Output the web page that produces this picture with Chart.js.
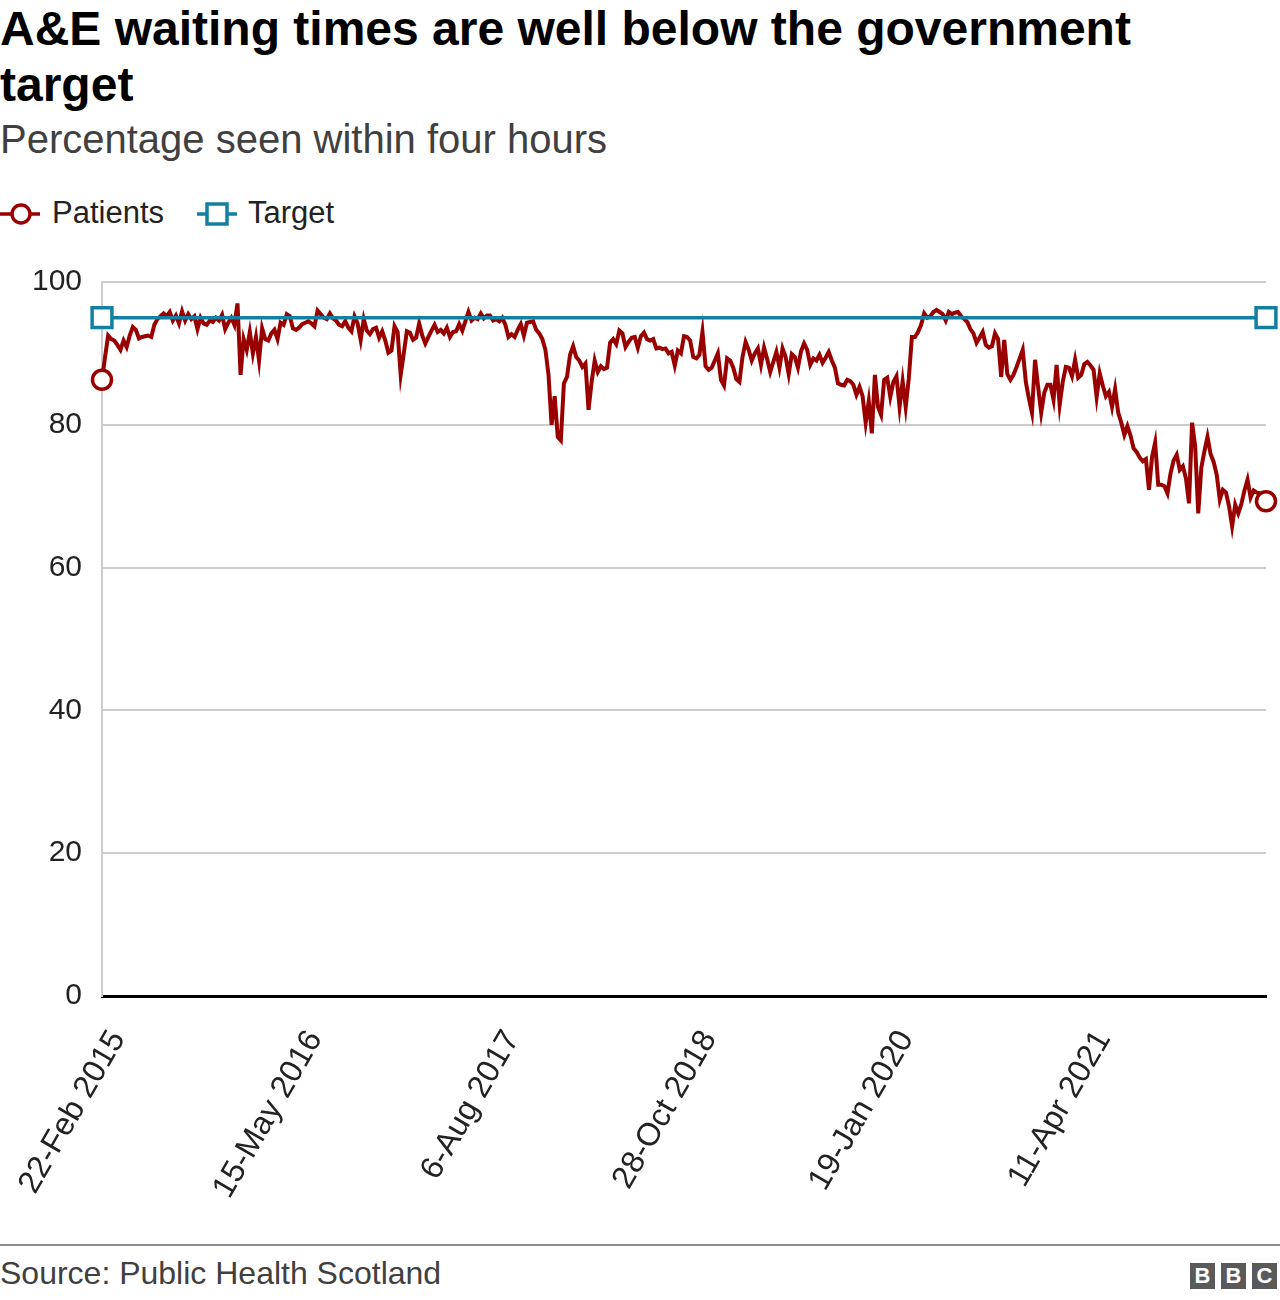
<!DOCTYPE html>
<html>
<head>
<meta charset="utf-8">
<script src="https://cdn.jsdelivr.net/npm/chart.js@4.4.0/dist/chart.umd.min.js"></script>
<style>
  body { margin: 0; width: 1280px; height: 1300px; position: relative; background: #fff;
         font-family: "Liberation Sans", Arial, Helvetica, sans-serif; overflow: hidden; }
  .abs { position: absolute; left: 0; white-space: nowrap; }
  #title { top: 1px; font-size: 48px; line-height: 56px; font-weight: bold; color: #000; }
  #subtitle { top: 115px; font-size: 40px; line-height: 48px; color: #404040; }
  .leg { top: 193px; font-size: 31px; line-height: 40px; color: #222; }
  #chartBox { position: absolute; left: 0; top: 250px; width: 1280px; height: 990px; }
  #rule { position: absolute; left: 0; top: 1244px; width: 1280px; height: 2px; background: #8c8c8c; }
  #source { top: 1253px; font-size: 32px; line-height: 40px; color: #404040; }
  .bbc { position: absolute; top: 1263px; width: 25px; height: 26px; background: #5a5a5a; color: #fff;
         font-weight: bold; font-size: 22px; line-height: 26px; text-align: center; }
</style>
</head>
<body>
<div id="title" class="abs">A&amp;E waiting times are well below the government<br>target</div>
<div id="subtitle" class="abs">Percentage seen within four hours</div>

<svg width="360" height="40" style="position:absolute;left:0;top:194px">
  <line x1="0" y1="20" x2="40" y2="20" stroke="#990000" stroke-width="3.5"/>
  <circle cx="21" cy="20" r="9" fill="#fff" stroke="#990000" stroke-width="3.5"/>
  <line x1="197" y1="20" x2="237" y2="20" stroke="#1380a1" stroke-width="3.5"/>
  <rect x="207" y="10" width="20" height="20" fill="#fff" stroke="#1380a1" stroke-width="3.5"/>
</svg>
<div class="abs leg" style="left:52px">Patients</div>
<div class="abs leg" style="left:248px">Target</div>

<div id="chartBox"><canvas id="myChart" width="1280" height="990"></canvas></div>

<div id="rule"></div>
<div id="source" class="abs">Source: Public Health Scotland</div>
<div class="bbc" style="left:1190px">B</div>
<div class="bbc" style="left:1221px">B</div>
<div class="bbc" style="left:1252px">C</div>

<script>
// weekly series, first week ending 22-Feb 2015
const startDate = Date.UTC(2015, 1, 22);
const months = ["Jan", "Feb", "Mar", "Apr", "May", "Jun", "Jul", "Aug", "Sep", "Oct", "Nov", "Dec"];

const tickLabels = ["22-Feb 2015", "15-May 2016", "6-Aug 2017", "28-Oct 2018", "19-Jan 2020", "11-Apr 2021"];

const targetValue = 95;

// % seen within four hours
const patients = [
  86.3, 89.5, 92.5, 92.0, 91.8, 91.2, 90.5, 91.8, 90.9, 92.5,
  93.7, 93.3, 92.1, 92.3, 92.4, 92.5, 92.3, 94.0, 94.8, 95.2,
  95.6, 95.2, 95.8, 94.6, 95.3, 94.2, 95.9, 94.6, 95.5, 94.8,
  95.2, 93.4, 95.0, 94.2, 94.0, 94.6, 94.4, 95.0, 94.6, 95.4,
  93.4, 94.3, 95.0, 94.0, 97.0, 87.0, 92.0, 90.5, 93.0, 90.0,
  92.3, 89.0, 93.5, 92.0, 91.8, 92.8, 93.3, 92.0, 94.3, 94.0,
  95.5, 95.2, 93.5, 93.3, 93.6, 94.1, 94.3, 94.5, 94.2, 93.8,
  96.0, 95.5, 95.0, 94.8, 95.6, 94.9, 94.6, 94.0, 93.8, 94.5,
  93.6, 93.1, 95.2, 94.2, 91.9, 94.8, 93.2, 92.7, 93.4, 93.6,
  92.2, 93.1, 91.8, 90.1, 90.4, 93.8, 93.0, 87.0, 90.0, 93.1,
  92.9, 91.9, 92.2, 94.2, 92.5, 91.4, 92.3, 93.2, 94.0, 93.0,
  93.3, 92.8, 93.6, 92.3, 93.0, 93.1, 94.1, 93.2, 94.5, 95.8,
  94.6, 95.0, 94.8, 95.6, 94.9, 95.3, 95.3, 94.6, 94.8, 94.5,
  95.0, 94.0, 92.3, 92.7, 92.3, 93.3, 94.1, 92.5, 94.3, 94.4,
  94.5, 93.3, 92.8, 92.0, 90.5, 87.0, 80.0, 84.0, 78.3, 77.8,
  85.8, 86.7, 89.8, 91.0, 89.5, 89.0, 88.1, 88.6, 82.1, 86.0,
  89.0, 87.4, 88.2, 87.8, 88.0, 91.5, 92.0, 91.3, 93.2, 92.8,
  90.9, 91.6, 92.2, 92.3, 90.8, 92.4, 92.9, 92.0, 91.8, 92.0,
  90.7, 90.8, 90.6, 90.7, 90.0, 90.2, 88.3, 90.4, 90.0, 92.4,
  92.3, 91.8, 89.5, 89.3, 89.8, 93.0, 88.2, 87.7, 88.0, 89.0,
  90.0, 86.3, 85.5, 89.3, 89.0, 88.0, 86.4, 86.0, 89.5, 91.6,
  90.5, 89.0, 90.0, 90.7, 88.4, 90.8, 89.2, 87.4, 88.8, 90.2,
  88.0, 90.7, 89.5, 87.1, 89.9, 89.5, 88.0, 90.3, 91.4, 90.5,
  88.4, 89.3, 89.0, 89.8, 88.7, 89.4, 90.2, 89.0, 88.0, 85.8,
  85.6, 85.5, 86.3, 86.1, 85.6, 84.2, 85.3, 84.0, 80.3, 83.3,
  78.8, 87.0, 82.5, 81.4, 86.3, 86.6, 83.9, 86.0, 86.8, 82.5,
  86.1, 82.5, 86.5, 92.3, 92.3, 93.0, 94.0, 95.6, 95.0, 95.2,
  95.8, 96.1, 95.8, 95.5, 94.6, 95.8, 95.5, 95.7, 95.8, 95.2,
  94.8, 94.4, 93.4, 92.8, 91.5, 92.2, 93.0, 91.2, 90.8, 91.0,
  92.8, 92.0, 86.7, 91.9, 87.1, 86.3, 87.0, 88.1, 89.3, 90.5,
  86.0, 83.7, 81.7, 89.1, 85.3, 81.7, 84.5, 85.6, 85.6, 83.5,
  88.4, 82.8, 86.0, 88.1, 88.0, 86.8, 89.1, 86.6, 87.0, 88.5,
  88.8, 88.3, 87.7, 83.9, 87.2, 85.5, 84.0, 84.6, 82.5, 85.0,
  81.7, 80.3, 78.6, 79.8, 78.5, 76.7, 76.2, 75.4, 74.9, 75.2,
  70.9, 75.5, 77.5, 71.6, 71.6, 71.4, 70.4, 73.2, 75.0, 75.8,
  73.7, 74.2, 72.5, 69.0, 80.3, 77.0, 67.6, 74.0, 76.3, 78.3,
  75.9, 74.8, 73.0, 69.5, 70.9, 70.5, 68.6, 65.8, 68.8, 67.6,
  68.9, 70.8, 72.3, 69.8, 70.8, 70.5, 70.4, 70.0, 69.3
];

const weeks = patients.map((v, i) => {
  const d = new Date(startDate + i * 7 * 86400000);
  return d.getUTCDate() + "-" + months[d.getUTCMonth()] + " " + d.getUTCFullYear();
});
const target = weeks.map(() => targetValue);
const last = patients.length - 1;

const font = "'Liberation Sans', Arial, Helvetica, sans-serif";

function endsOnly(r) {
  return function (c) { return (c.dataIndex === 0 || c.dataIndex === last) ? r : 0; };
}

// drop the label overflow padding so the plot area sits where the layout padding says
function noPad(s) {
  s.paddingLeft = 0;
  s.paddingRight = 0;
  s.paddingTop = 0;
  s.paddingBottom = 0;
}

var ctx = document.getElementById("myChart");
var myChart = new Chart(ctx, {
  type: "line",
  data: {
    labels: weeks,
    datasets: [
      {
        label: "Patients",
        data: patients,
        order: 1,
        borderColor: "#990000",
        borderWidth: 4,
        tension: 0,
        clip: false,
        pointRadius: endsOnly(9.5),
        pointHoverRadius: endsOnly(9.5),
        pointBackgroundColor: "#fff",
        pointBorderColor: "#990000",
        pointBorderWidth: 3.5,
      },
      {
        label: "Target",
        data: target,
        order: 0,
        borderColor: "#1380a1",
        borderWidth: 3.5,
        clip: false,
        pointStyle: "rect",
        pointRadius: endsOnly(14),
        pointHoverRadius: endsOnly(14),
        pointBackgroundColor: "#fff",
        pointBorderColor: "#1380a1",
        pointBorderWidth: 3.5,
      },
    ],
  },
  options: {
    responsive: false,
    animation: false,
    layout: { autoPadding: false, padding: { top: 32, right: 14, left: 0, bottom: 0 } },
    plugins: {
      legend: { display: false },
      tooltip: { enabled: false },
    },
    scales: {
      x: {
        grid: { display: false, drawTicks: false },
        border: { display: true, color: "#000", width: 3 },
        ticks: {
          autoSkip: false,
          minRotation: 60,
          maxRotation: 60,
          padding: 28,
          labelOffset: 16,
          color: "#222",
          font: { family: font, size: 32 },
          callback: function (v) {
            const l = this.getLabelForValue(v);
            return tickLabels.includes(l) ? l : null;
          },
        },
        afterFit: function (s) { s.height = 244; noPad(s); },
      },
      y: {
        min: 0,
        max: 100,
        grid: {
          drawTicks: false,
          lineWidth: 2,
          color: function (c) { return c.tick.value === 0 ? "rgba(0,0,0,0)" : "#cccccc"; },
        },
        border: { display: true, color: "#cccccc", width: 2 },
        ticks: {
          stepSize: 20,
          padding: 20,
          color: "#222",
          font: { family: font, size: 30 },
        },
        afterFit: function (s) { s.width = 102; noPad(s); },
      },
    },
  },
});
</script>
</body>
</html>
